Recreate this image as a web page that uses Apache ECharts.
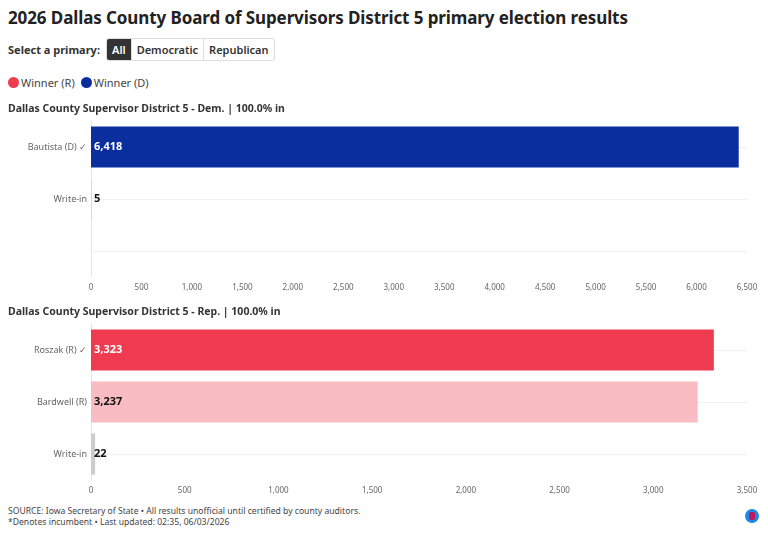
<!DOCTYPE html>
<html>
<head>
    <meta charset="utf-8">
    <title>2026 Dallas County Board of Supervisors District 5 primary election results</title>
    <script src="https://cdn.jsdelivr.net/npm/echarts@6/dist/echarts.min.js"></script>
    <style>
        body { margin: 0; font-family: "Noto Sans", sans-serif; color: #222; background: #fff; }
        #wrap { position: relative; width: 768px; height: 537px; overflow: hidden; }
        h1 { position: absolute; left: 8px; top: 6px; margin: 0; font-size: 17px; font-weight: 700; color: #222; white-space: nowrap; letter-spacing: -0.1px; }
        .picker { position: absolute; left: 8px; top: 38px; height: 22px; display: flex; align-items: center; font-size: 11px; }
        .picker b { margin-right: 6px; color: #333; }
        .btns { display: flex; border: 1px solid #ddd; border-radius: 3px; height: 21px; }
        .btns span { padding: 0 5px; line-height: 21px; font-weight: 600; color: #333; border-left: 1px solid #ddd; }
        .btns span.on { background: #333; color: #fff; border-left: none; border-radius: 2px 0 0 2px; }
        .legend { position: absolute; left: 8px; top: 75px; font-size: 11px; color: #444; display: flex; align-items: center; }
        .dot { display: inline-block; width: 11px; height: 11px; border-radius: 50%; margin-right: 2px; }
        .legend span.t { margin-right: 6px; }
        #chart { position: absolute; left: 0; top: 95px; width: 768px; height: 410px; }
        .foot { position: absolute; left: 8px; top: 506px; font-size: 8.6px; color: #444; line-height: 11px; }
        .logo { position: absolute; left: 745px; top: 509px; width: 14px; height: 14px; border-radius: 50%; background: #1e88e5; }
        .logo i { position: absolute; left: 4px; top: 3px; width: 6px; height: 8px; background: #c2185b; border-radius: 2px; }
    </style>
</head>
<body>
<div id="wrap">
    <h1>2026 Dallas County Board of Supervisors District 5 primary election results</h1>
    <div class="picker"><b>Select a primary:</b>
        <div class="btns"><span class="on">All</span><span>Democratic</span><span>Republican</span></div>
    </div>
    <div class="legend">
        <span class="dot" style="background:#ef3b4f"></span><span class="t">Winner (R)</span>
        <span class="dot" style="background:#0b2e9e"></span><span class="t">Winner (D)</span>
    </div>
    <div id="chart"></div>
    <div class="foot">SOURCE: Iowa Secretary of State • All results unofficial until certified by county auditors.<br>*Denotes incumbent • Last updated: 02:35, 06/03/2026</div>
    <div class="logo"><i></i></div>
</div>
<script>
    // 民主党初选
    var demTitle = 'Dallas County Supervisor District 5 - Dem. | 100.0% in';
    var demNames = ['Bautista (D) ✓', 'Write-in', ''];
    var demVotes = [6418, 5, null];
    var demColors = ['#0b2e9e', '#cccccc', '#cccccc'];
    var demWinner = [true, false, false];

    // 共和党初选
    var repTitle = 'Dallas County Supervisor District 5 - Rep. | 100.0% in';
    var repNames = ['Roszak (R) ✓', 'Bardwell (R)', 'Write-in'];
    var repVotes = [3323, 3237, 22];
    var repColors = ['#ef3b4f', '#f9bcc2', '#cccccc'];
    var repWinner = [true, false, false];

    function barData(votes, colors, winner) {
        return votes.map(function (v, i) {
            return {
                value: v,
                itemStyle: { color: colors[i] },
                label: { color: winner[i] ? '#fff' : '#111' }
            };
        });
    }

    function catAxis(names, idx) {
        return {
            type: 'category', gridIndex: idx, data: names, inverse: true,
            axisLine: { show: true, lineStyle: { color: '#e6e6e6' } },
            axisTick: { show: false },
            axisLabel: { color: '#666', fontSize: 9, margin: 4 },
            splitLine: { show: true, alignWithLabel: true, lineStyle: { color: '#f0f0f0' } }
        };
    }

    function valAxis(max, idx) {
        return {
            type: 'value', gridIndex: idx, min: 0, max: max, interval: 500,
            axisLine: { show: false }, axisTick: { show: false },
            axisLabel: { color: '#666', fontSize: 8, margin: 7,
                formatter: function (v) { return v.toLocaleString('en-US'); } },
            splitLine: { show: false }
        };
    }

    var myChart = echarts.init(document.getElementById('chart'));
    var option = {
        animation: false,
        textStyle: { fontFamily: 'Noto Sans' },
        title: [
            { text: demTitle, left: 3, top: 4, textStyle: { fontSize: 10.5, fontWeight: 'bold', color: '#333' } },
            { text: repTitle, left: 3, top: 207, textStyle: { fontSize: 10.5, fontWeight: 'bold', color: '#333' } }
        ],
        grid: [
            { left: 91, right: 21, top: 26, height: 156 },
            { left: 91, right: 21, top: 229, height: 156 }
        ],
        xAxis: [valAxis(6500, 0), valAxis(3500, 1)],
        yAxis: [catAxis(demNames, 0), catAxis(repNames, 1)],
        series: [
            {
                type: 'bar', xAxisIndex: 0, yAxisIndex: 0, barCategoryGap: '21%',
                data: barData(demVotes, demColors, demWinner),
                label: { show: true, position: 'insideLeft', distance: 3, fontSize: 11, fontWeight: 'bold',
                    formatter: function (p) { return p.value == null ? '' : p.value.toLocaleString('en-US'); } }
            },
            {
                type: 'bar', xAxisIndex: 1, yAxisIndex: 1, barCategoryGap: '21%',
                data: barData(repVotes, repColors, repWinner),
                label: { show: true, position: 'insideLeft', distance: 3, fontSize: 11, fontWeight: 'bold',
                    formatter: function (p) { return p.value.toLocaleString('en-US'); } }
            }
        ]
    };
    myChart.setOption(option);
</script>
</body>
</html>
